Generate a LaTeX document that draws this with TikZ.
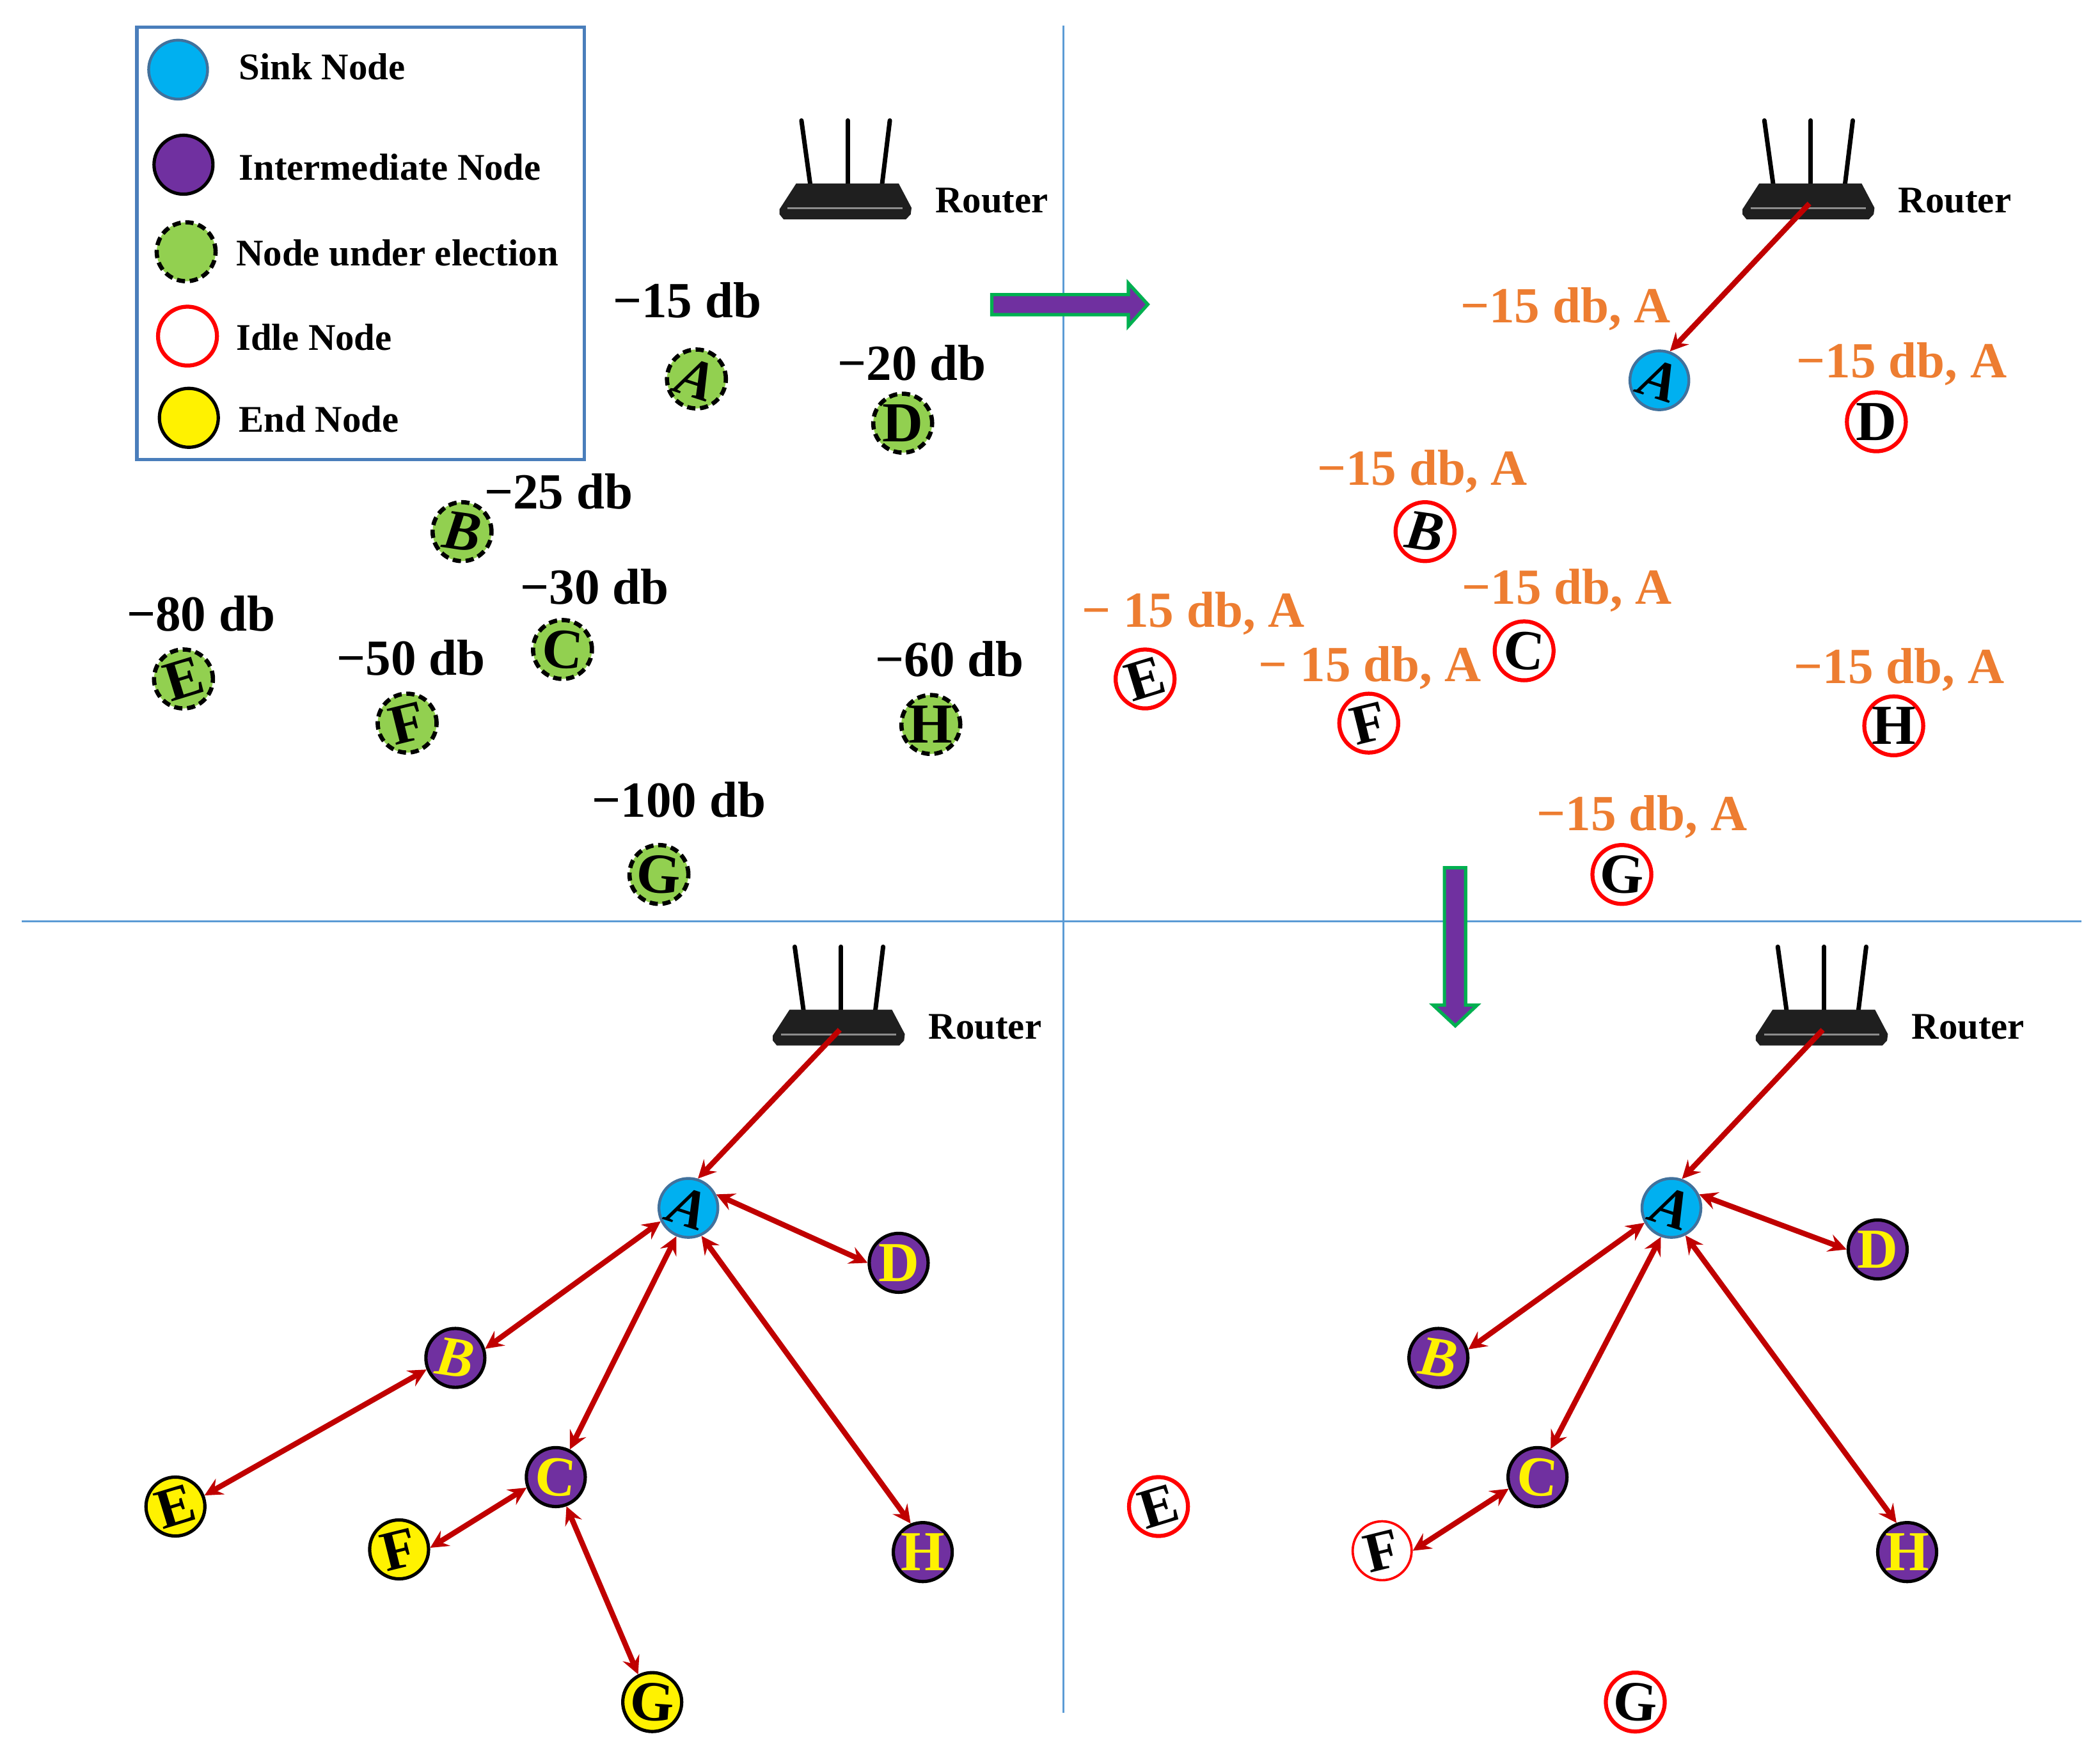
\documentclass[tikz,border=0pt]{standalone}
\usepackage{fontspec}
\setmainfont{Liberation Serif}

\definecolor{sinkblue}{HTML}{00B0F0}
\definecolor{sinkline}{HTML}{41719C}
\definecolor{midpurple}{HTML}{7030A0}
\definecolor{votegreen}{HTML}{92D050}
\definecolor{linkred}{HTML}{C00000}
\definecolor{rssiorange}{HTML}{ED7D31}
\definecolor{panelblue}{HTML}{5B9BD5}
\definecolor{boxblue}{HTML}{4A7EBB}
\definecolor{arrowgreen}{HTML}{00B050}

\tikzset{
    netnode/.style={circle, minimum size=0.88cm, inner sep=0pt},
    sink/.style={netnode, fill=sinkblue, draw=sinkline, line width=1.2pt},
    middle/.style={netnode, fill=midpurple, draw=black, line width=1.4pt},
    vote/.style={netnode, fill=votegreen, draw=black, line width=1.8pt,
        dash pattern=on 3.5pt off 2pt},
    idle/.style={netnode, fill=white, draw=red, line width=1.7pt},
    idlethin/.style={netnode, fill=white, draw=red, line width=1pt},
    final/.style={netnode, fill=yellow, draw=black, line width=1.4pt},
    inksink/.style={text=black},
    inkmiddle/.style={text=yellow},
    inkidle/.style={text=black},
    inkidlethin/.style={text=black},
    inkfinal/.style={text=black},
    letterA/.style={rotate=-18, font=\fontsize{24}{24}\selectfont\bfseries\itshape},
    letterB/.style={rotate=-8, font=\fontsize{24}{24}\selectfont\bfseries\itshape},
    letterC/.style={rotate=-5},
    letterD/.style={rotate=0},
    letterE/.style={rotate=17},
    letterF/.style={rotate=14},
    letterG/.style={rotate=-4},
    letterH/.style={rotate=0},
    every label/.style={font=\fontsize{24}{24}\selectfont\bfseries, inner sep=0pt},
    keytext/.style={anchor=west, inner sep=0pt, font=\fontsize{16}{18}\selectfont\bfseries},
    rssi/.style={font=\fontsize{21.5}{24}\selectfont\bfseries},
    rssinote/.style={rssi, text=rssiorange, text depth=0pt},
    oneway/.style={draw=linkred, line width=2.3pt, -stealth},
    twoway/.style={draw=linkred, line width=2.3pt, stealth-stealth},
    bigarrow/.style={draw=arrowgreen, fill=midpurple, line width=1.4pt},
    routerpic/.pic={
        % antennas
        \draw[black, line width=1.9pt, line cap=round] (-33.6,-62) -- (-26.7,-12);
        \draw[black, line width=1.9pt, line cap=round] (1,-62) -- (1,-12);
        \draw[black, line width=1.9pt, line cap=round] (32.4,-62) -- (26.3,-12);
        % body
        \fill[black!88] (-37.5,-15) -- (39,-15) -- (48.6,3.2) -- (48,8) -- (44.5,11.7)
            -- (-47,11.7) -- (-50,8) -- (-50,4.3) -- cycle;
        \draw[black!45, line width=0.8pt] (-44,3.6) -- (42,3.6);
        \coordinate (-port) at (0,0);
        \node[keytext] (-lab) at (66,-2) {Router};
    }
}

\begin{document}
\begin{tikzpicture}[x=0.02cm, y=-0.02cm]
    \useasboundingbox (0,0) rectangle (1568,1305.3);

    % panel dividers
    \coordinate (vtop) at (794,19);
    \coordinate (vbot) at (794,1279);
    \coordinate (hleft) at (16,688);
    \coordinate (hright) at (1554,688);
    \draw[panelblue, line width=0.9pt] (vtop) -- (vbot);
    \draw[panelblue, line width=0.9pt] (hleft) -- (hright);

    % legend
    \node[draw=boxblue, line width=1.4pt, minimum width=6.68cm, minimum height=6.46cm,
        anchor=north west, inner sep=0pt] (keybox) at (101,19) {};
    \foreach \kind/\x/\y/\tx/\ty/\name in {
        sink/133/52/178/50/Sink Node,
        middle/137/123/178/125/Intermediate Node,
        vote/139/188/176/189/Node under election,
        idle/140/251/176/252/Idle Node,
        final/141/312/178/313/End Node
    } {
        \node[\kind] (key\kind) at (\x,\y) {};
        \node[keytext] (keytext\kind) at (\tx,\ty) {\name};
    }

    % routers
    \pic (ra) at (632,152) {routerpic};
    \pic (rb) at (1351,152) {routerpic};
    \pic (rc) at (627,769) {routerpic};
    \pic (rd) at (1361,769) {routerpic};

    % panel a, all nodes under election
    \foreach \n/\x/\y in {A/520/283, B/345/397, C/420/485, D/674/316,
        E/137/507, F/304/540, G/492/653, H/695/541} {
        \node[vote, label={[letter\n]center:\n}] (a\n) at (\x,\y) {};
    }
    \foreach \n/\x/\y/\val in {A/513/224/15, D/681/271/20, B/417/367/25, C/444/438/30,
        E/150/458/80, F/307/491/50, H/709/492/60, G/507/597/100} {
        \node[rssi] (vala\n) at (\x,\y) {−\val{} db};
    }

    % panel b, A elected
    \foreach \n/\kind/\x/\y in {A/sink/1239/284, B/idle/1064/397, C/idle/1138/486, D/idle/1401/315,
        E/idle/855/507, F/idle/1022/540, G/idle/1211/653, H/idle/1414/542} {
        \node[\kind, label={[letter\n, ink\kind]center:\n}] (b\n) at (\x,\y) {};
    }
    \foreach \n/\x/\y/\gap in {A/1169/228/, D/1420/269/, B/1062/349/, C/1170/438/,
        E/891/455/{ }, F/1023/496/{ }, H/1418/497/, G/1226/607/} {
        \node[rssinote] (valb\n) at (\x,\y) {−\gap 15 db, A};
    }
    \draw[oneway] (rb-port) -- (bA.70);

    % panel c, full tree
    \foreach \n/\kind/\x/\y in {A/sink/514/902, B/middle/340/1014, C/middle/415/1103, D/middle/671/943,
        E/final/131/1125, F/final/298/1157, G/final/487/1271, H/middle/689/1159} {
        \node[\kind, label={[letter\n, ink\kind]center:\n}] (c\n) at (\x,\y) {};
    }
    \draw[oneway] (rc-port) -- (cA.72);
    \foreach \a/\b in {cA.26/cD.180, cA.206/cB.17, cA.247/cC.63, cA.295/cH.113,
        cB.202/cE.21, cC.200/cF.3, cC.290/cG.117} {
        \draw[twoway] (\a) -- (\b);
    }

    % panel d, tree after pruning
    \foreach \n/\kind/\x/\y in {A/sink/1248/902, B/middle/1074/1014, C/middle/1148/1103, D/middle/1402/933,
        E/idle/865/1125, F/idlethin/1032/1158, G/idle/1221/1271, H/middle/1424/1159} {
        \node[\kind, label={[letter\n, ink\kind]center:\n}] (d\n) at (\x,\y) {};
    }
    \draw[oneway] (rd-port) -- (dA.70);
    \foreach \a/\b in {dA.26/dD.180, dA.209/dB.16, dA.250/dC.65, dA.297/dH.110, dC.202/dF.0} {
        \draw[twoway] (\a) -- (\b);
    }

    % block arrows between panels
    \draw[bigarrow] (740.5,220) -- (842.5,220) -- (842.5,211.5) -- (857,227.3)
        -- (842.5,243.5) -- (842.5,235) -- (740.5,235) -- cycle;
    \draw[bigarrow] (1078.5,648) -- (1094.3,648) -- (1094.3,750.5) -- (1103,750.5)
        -- (1086.6,766) -- (1070,750.5) -- (1078.5,750.5) -- cycle;
\end{tikzpicture}
\end{document}
